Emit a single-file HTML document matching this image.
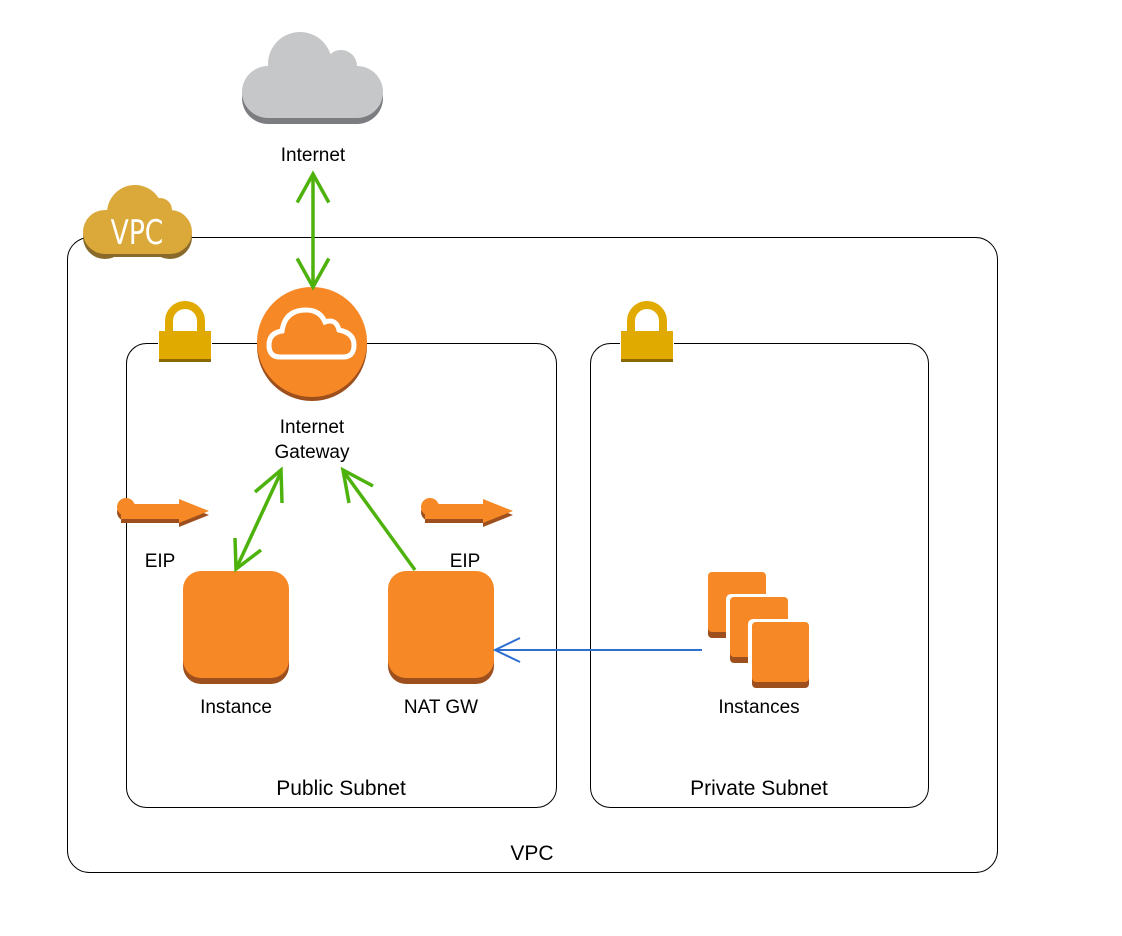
<!DOCTYPE html>
<html><head><meta charset="utf-8"><style>
html,body{margin:0;padding:0;background:#fff;}
svg{display:block;}
text{font-family:"Liberation Sans",sans-serif;font-size:19px;fill:#000;}
</style></head><body>
<svg width="1122" height="936" viewBox="0 0 1122 936" xmlns="http://www.w3.org/2000/svg">
<defs>
<g id="lock">
  <path d="M10,30 V18 A16,16 0 0 1 42,18 V30" fill="none" stroke="#e0aa00" stroke-width="8"/>
  <rect x="0" y="28" width="52" height="28" fill="#e0aa00"/>
  <rect x="0" y="56" width="52" height="3" fill="#8a6a00"/>
</g>
<g id="eip">
  <rect x="4" y="13" width="62" height="15" fill="#9d4f1d"/>
  <polygon points="62,8 92,20 62,32" fill="#9d4f1d"/>
  <circle cx="9" cy="17" r="9" fill="#9d4f1d"/>
  <rect x="4" y="9" width="62" height="15" fill="#f68826"/>
  <polygon points="62,4 92,16 62,28" fill="#f68826"/>
  <circle cx="9" cy="12" r="9" fill="#f68826"/>
</g>
<g id="icloud">
  <circle cx="268" cy="92" r="26"/>
  <circle cx="357" cy="92" r="26"/>
  <circle cx="300" cy="64" r="32"/>
  <circle cx="341" cy="66" r="16"/>
  <rect x="268" y="66" width="89" height="52"/>
</g>
</defs>

<!-- Internet cloud -->
<use href="#icloud" fill="#7b7d80" transform="translate(0,6)"/>
<use href="#icloud" fill="#c6c7c8"/>
<text x="313" y="161" text-anchor="middle">Internet</text>

<!-- VPC box -->
<rect x="67.5" y="237.5" width="930" height="635" rx="22" fill="none" stroke="#000" stroke-width="1"/>
<!-- VPC badge -->
<g>
  <g fill="#8a6a2a" transform="translate(0,5)">
    <circle cx="105" cy="232" r="22"/><circle cx="170" cy="232" r="22"/>
    <circle cx="135" cy="213" r="28"/><circle cx="160" cy="210" r="12"/>
    <rect x="105" y="210" width="65" height="42"/>
  </g>
  <g fill="#dba93a">
    <circle cx="105" cy="232" r="22"/><circle cx="170" cy="232" r="22"/>
    <circle cx="135" cy="213" r="28"/><circle cx="160" cy="210" r="12"/>
    <rect x="105" y="210" width="65" height="44"/>
  </g>
  <text x="0" y="0" text-anchor="middle" transform="translate(137,244) scale(0.78,1)" style="font-size:34px;fill:#fff;font-family:'DejaVu Sans',sans-serif;">VPC</text>
</g>
<text x="532" y="860" text-anchor="middle" style="font-size:21px">VPC</text>

<!-- Public subnet -->
<rect x="126.5" y="343.5" width="430" height="464" rx="20" fill="none" stroke="#000" stroke-width="1"/>
<rect x="158" y="302" width="54" height="62" fill="#fff"/>
<use href="#lock" x="159" y="303"/>
<text x="341" y="795" text-anchor="middle" style="font-size:21px">Public Subnet</text>

<!-- Private subnet -->
<rect x="590.5" y="343.5" width="338" height="464" rx="20" fill="none" stroke="#000" stroke-width="1"/>
<rect x="620" y="302" width="54" height="62" fill="#fff"/>
<use href="#lock" x="621" y="303"/>
<text x="759" y="795" text-anchor="middle" style="font-size:21px">Private Subnet</text>

<!-- IGW -->
<circle cx="312" cy="346" r="55" fill="#9d4f1d"/>
<circle cx="312" cy="342" r="55" fill="#f68826"/>
<path d="M280,357 Q269,357 269,345 Q269,333 282,331 Q285,310 306,310 Q320,310 325,322 Q336,318 339,330 Q354,333 354,345 Q354,357 343,357 Z" fill="none" stroke="#fff" stroke-width="5"/>
<text x="312" y="433" text-anchor="middle">Internet</text>
<text x="312" y="458" text-anchor="middle">Gateway</text>

<!-- Internet <-> IGW arrow -->
<g stroke="#4eb20d" stroke-width="3.5" fill="none" stroke-linecap="square">
  <line x1="313" y1="176" x2="313" y2="286"/>
  <polyline points="298,201 313,174 328,201"/>
  <polyline points="298,260 313,287 328,260"/>
</g>

<!-- EIP arrows -->
<use href="#eip" x="117" y="495"/>
<text x="160" y="567" text-anchor="middle">EIP</text>
<use href="#eip" x="421" y="495"/>
<text x="465" y="567" text-anchor="middle">EIP</text>

<!-- Instance -->
<rect x="183" y="577" width="106" height="107" rx="18" fill="#9d4f1d"/>
<rect x="183" y="571" width="106" height="107" rx="18" fill="#f68826"/>
<text x="236" y="713" text-anchor="middle">Instance</text>

<!-- NAT GW -->
<rect x="388" y="577" width="106" height="107" rx="18" fill="#9d4f1d"/>
<rect x="388" y="571" width="106" height="107" rx="18" fill="#f68826"/>
<text x="441" y="713" text-anchor="middle">NAT GW</text>

<!-- green arrows -->
<g stroke="#4eb20d" stroke-width="3.5" fill="none">
  <line x1="236" y1="569" x2="281" y2="472"/>
  <polyline points="255,492 281,470 282,503"/>
  <polyline points="235,538 236,569 261,550"/>
  <line x1="415" y1="570" x2="344" y2="472"/>
  <polyline points="349,503 343,470 373,486"/>
</g>

<!-- blue arrow -->
<g stroke="#2f6fd2" stroke-width="2" fill="none">
  <line x1="702" y1="650" x2="496" y2="650"/>
  <polyline points="520,638 495,650 520,662"/>
</g>

<!-- Instances stack -->
<g>
  <rect x="708" y="575" width="58" height="63" rx="4" fill="#9d4f1d"/>
  <rect x="708" y="572" width="58" height="60" rx="4" fill="#f68826"/>
  <rect x="726" y="594" width="64" height="70" rx="5" fill="#fff"/>
  <rect x="730" y="600" width="58" height="63" rx="4" fill="#9d4f1d"/>
  <rect x="730" y="597" width="58" height="60" rx="4" fill="#f68826"/>
  <rect x="748" y="619" width="64" height="70" rx="5" fill="#fff"/>
  <rect x="752" y="625" width="57" height="63" rx="4" fill="#9d4f1d"/>
  <rect x="752" y="622" width="57" height="60" rx="4" fill="#f68826"/>
</g>
<text x="759" y="713" text-anchor="middle">Instances</text>
</svg>
</body></html>
